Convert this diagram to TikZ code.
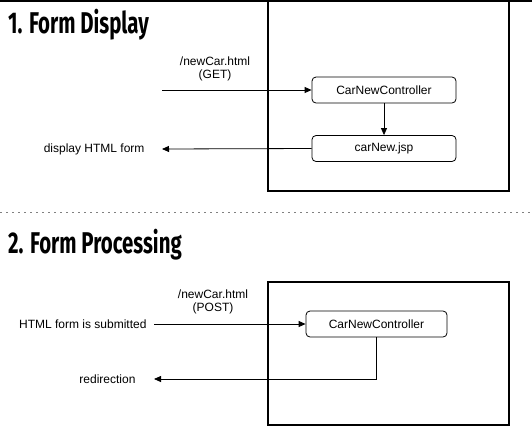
\documentclass[tikz,border=0pt]{standalone}
\usepackage{fontspec}
\setmainfont{Liberation Sans}
\newfontfamily\titlefont{Fira Sans}
\usetikzlibrary{arrows.meta, positioning}

\begin{document}
\begin{tikzpicture}[x=1pt, y=-1pt, font=\fontsize{12}{13}\selectfont,
    ctrl/.style={draw, rounded corners=4pt, line width=0.8pt, minimum width=144pt, minimum height=26pt},
    flow/.style={-{Triangle[length=7pt,width=6pt]}, line width=0.8pt},
    frame/.style={draw, line width=1.2pt},
    title/.style={anchor=base west, inner sep=0pt, font=\titlefont\bfseries\fontsize{24}{28}\selectfont}]
      \useasboundingbox (0,0) rectangle (532,432);
      \draw[line width=1.5pt] (0,0.75) -- (532,0.75);
      % 1. form display
      \node[title] (title1) at (8,33) {\scalebox{0.85}[1.25]{1. Form Display}};
      \draw[frame] (268,0.75) rectangle (509,191);
      \node[ctrl] (ctl1) at (384,90) {CarNewController};
      \node[ctrl] (jsp) at (384,148.5) {carNew.jsp};
      \coordinate (in1) at (162,90);
      \coordinate (out1) at (162,149);
      \node[align=center] (url1) at (215,69) {/newCar.html\\(GET)};
      \node[anchor=east] (disp) at (148,149) {display HTML form};
      \draw[flow] (in1) -- (ctl1.west);
      \draw[flow] (ctl1) -- (jsp);
      \draw[flow] (jsp.west) -- (out1);
      % 2. form processing
      \draw[gray, dash pattern=on 2pt off 4pt, line width=1pt] (0,212) -- (532,212);
      \node[title] (title2) at (8,253) {\scalebox{0.85}[1.25]{2. Form Processing}};
      \draw[frame] (268,282) rectangle (509,425);
      \node[ctrl, minimum width=141pt] (ctl2) at (376.5,324) {CarNewController};
      \node[align=center] (url2) at (213,302) {/newCar.html\\(POST)};
      \node[anchor=east] (sub) at (150,324) {HTML form is submitted};
      \node[anchor=east] (redir) at (139,379) {redirection};
      \coordinate (out2) at (154,379);
      \draw[flow, shorten <=4pt] (sub.east) -- (ctl2.west);
      \draw[flow] (ctl2.south) |- (out2);
\end{tikzpicture}
\end{document}
